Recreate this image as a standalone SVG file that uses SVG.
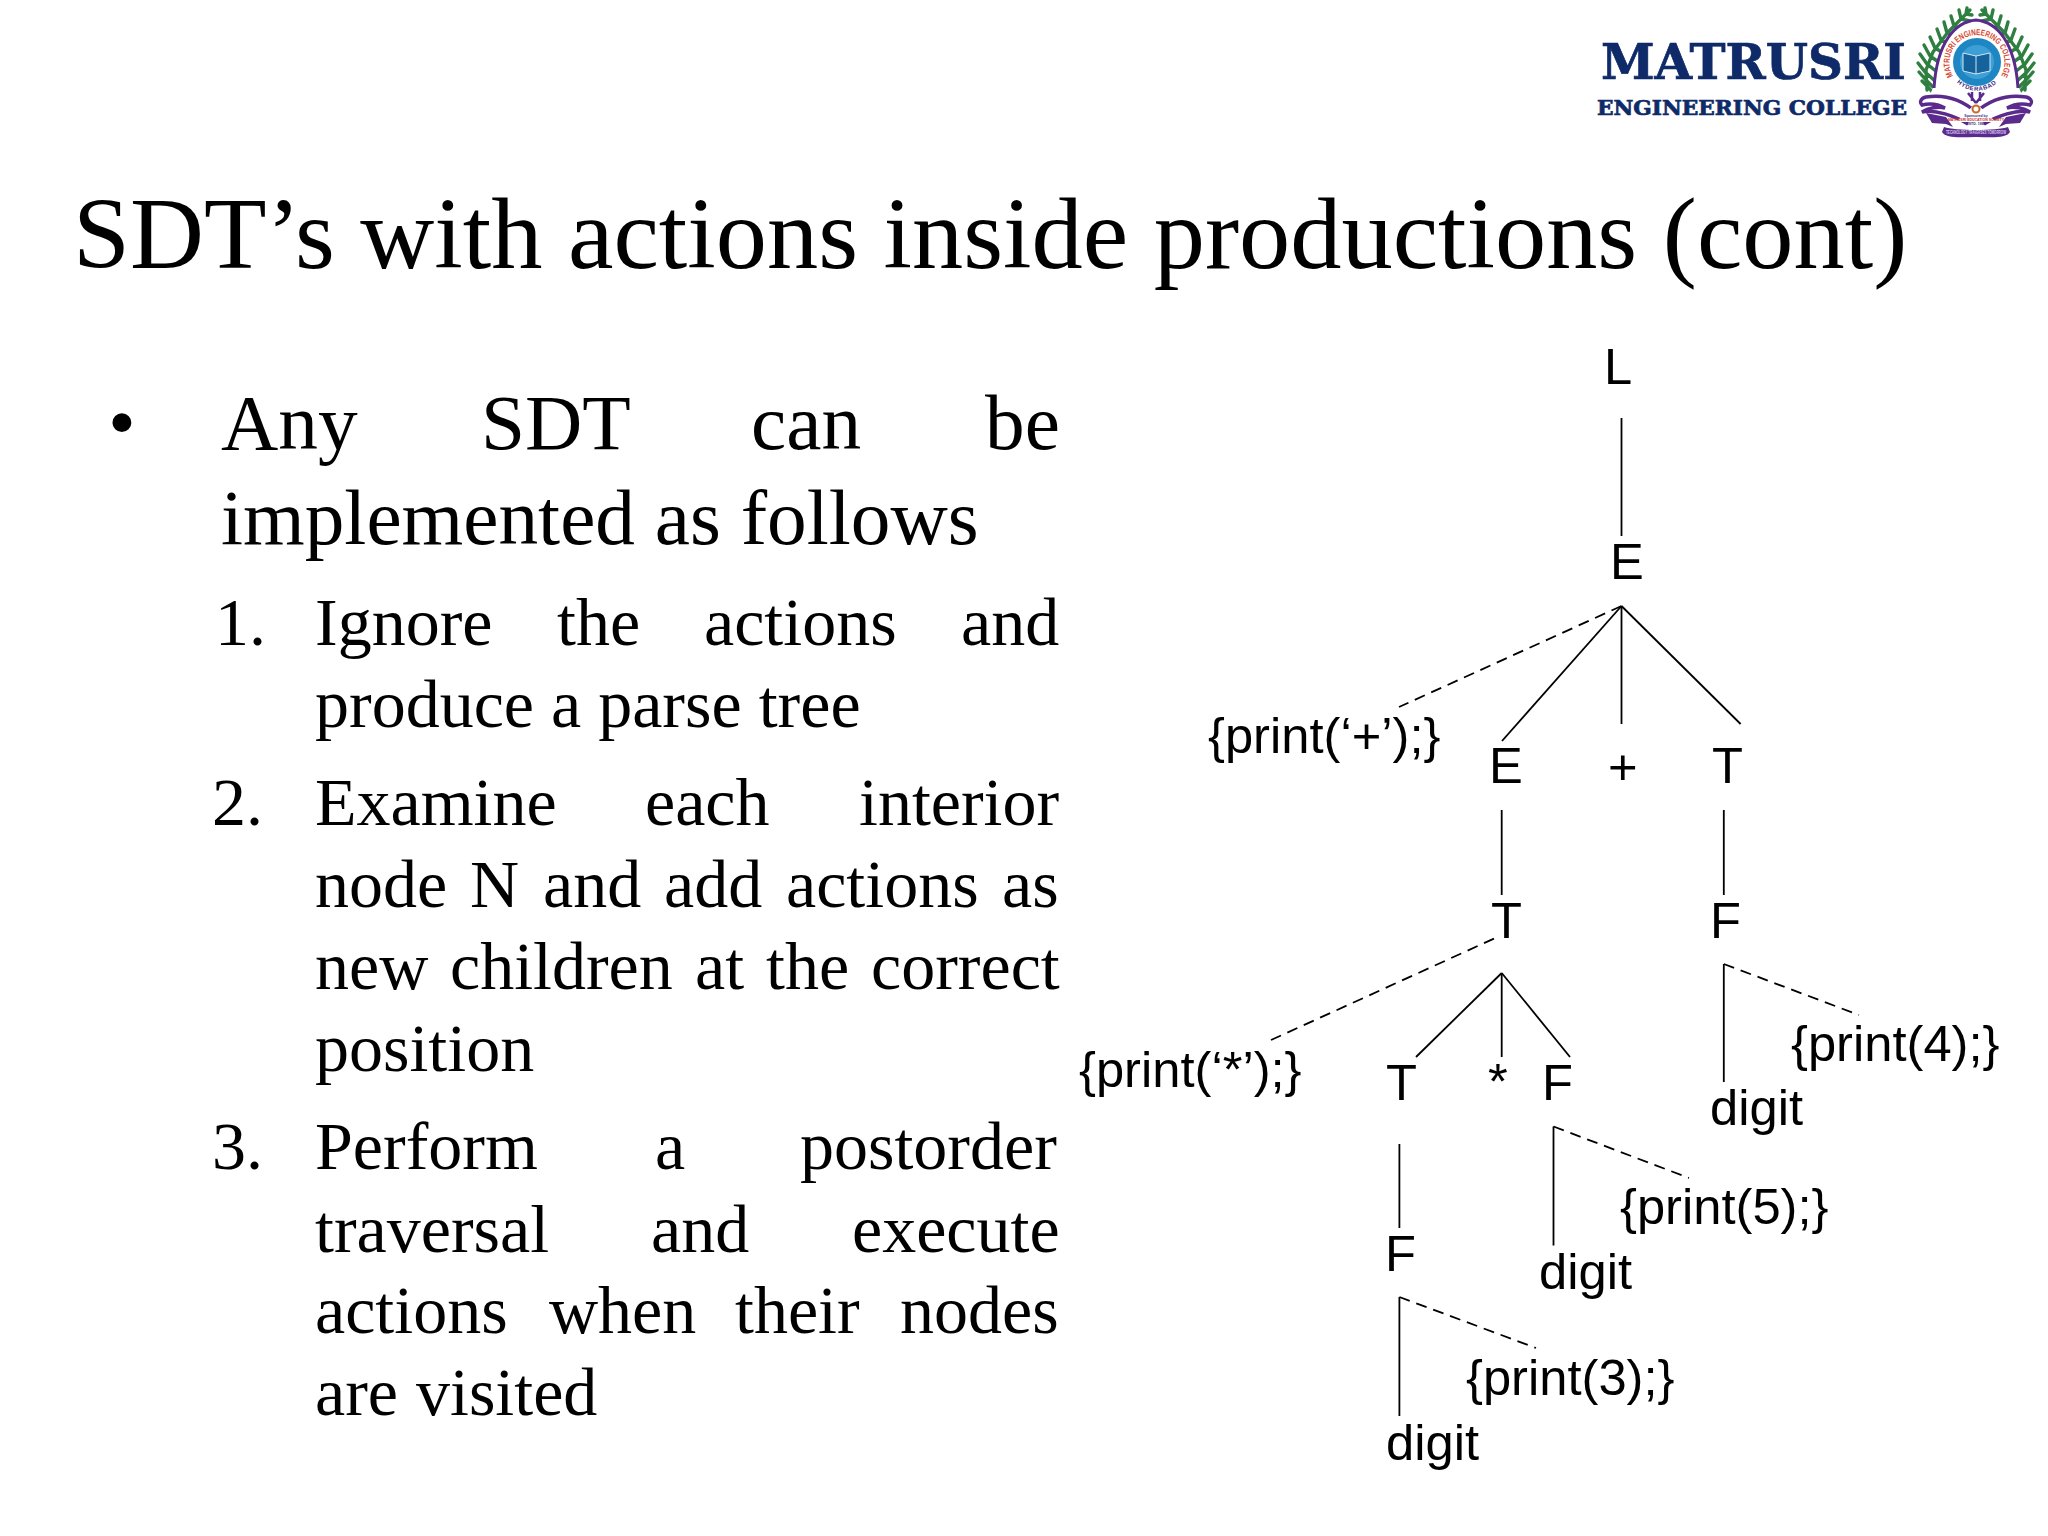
<svg xmlns="http://www.w3.org/2000/svg" width="2048" height="1536" viewBox="0 0 2048 1536">
<style>
.t{font-family:"Liberation Serif","Times New Roman",serif;fill:#000}
.h{font-size:102.4px}
.b{font-size:79.3px}
.s{font-size:68px}
.n{font-family:"Liberation Sans",Arial,sans-serif;font-size:50.7px;fill:#000}
.c line,.c path{stroke:#000;stroke-width:1.8;fill:none}
.c .d{stroke-dasharray:11 7}
.lg{font-family:"DejaVu Serif","Liberation Serif",serif;font-weight:700;fill:#0f2a68;stroke:#0f2a68;stroke-width:.7}
.leaf{stroke:#2f8040;stroke-width:3.4;fill:none;stroke-linecap:round}
.pu{stroke:#5a2a8c;fill:none}
.tiny{font-family:"Liberation Sans",Arial,sans-serif;font-weight:700}
</style>
<defs>
<path id="wreath" class="leaf" d="M1970 8L1948 30L1933 50L1926 68L1927 88M1966 12l1-6M1966 12l6 1M1961 17l-2-9M1961 17l9 2M1954 24l-3-10M1954 24l10 3M1947 31l-3-11M1947 31l10 4M1941 38l-4-11M1941 38l10 5M1935 46l-5-11M1935 46l10 6M1930 54l-6-11M1930 54l10 7M1927 62l-7-10M1927 62l10 8M1925 70l-7-9M1925 70l10 9M1926 78l-7-8M1926 78l9 9M1928 85l-6-6M1928 85l7 8"/>
<path id="ribbon" d="M1976 112C1962 100 1945 94 1926 97C1921 98 1919 102 1922 105C1930 103 1938 104 1945 108C1938 106 1928 108 1922 112C1935 109 1955 116 1968 124" class="pu" stroke-width="3.4"/>
</defs>
<rect width="2048" height="1536" fill="#fff"/>

<g id="logo">
<text class="lg" x="1601" y="79" font-size="48" textLength="305" lengthAdjust="spacingAndGlyphs">MATRUSRI</text>
<text class="lg" x="1597" y="115" font-size="21" textLength="310" lengthAdjust="spacingAndGlyphs">ENGINEERING COLLEGE</text>
<g id="emblem">
<use href="#wreath" transform="translate(0 2)"/>
<use href="#wreath" transform="translate(3952 2) scale(-1 1)"/>
<path d="M1976 20C1955 22 1938 40 1934 85L1928 100L2024 100L2018 85C2014 40 1997 22 1976 20Z" fill="#fff"/>
<path class="pu" stroke-width="3" d="M1934 88C1937 42 1955 22 1976 20C1997 22 2015 42 2018 88"/>
<circle cx="1977" cy="62" r="24" fill="#1f86c4"/>
<circle cx="1977" cy="62" r="17" fill="#3d9fd6"/>
<path d="M1963 53L1976 56L1990 53V71L1976 74L1963 71Z" fill="#14639c" stroke="#cfe6f4" stroke-width="1"/>
<path d="M1976 56V74" stroke="#cfe6f4" stroke-width="1"/>
<path id="ringT" d="M1953 76A27.5 27.5 0 1 1 2001 76" fill="none"/>
<path id="ringB" d="M1953 78A29 29 0 0 0 2001 78" fill="none"/>
<text class="tiny" font-size="8.5" fill="#d9482f"><textPath href="#ringT" textLength="114" lengthAdjust="spacingAndGlyphs">MATRUSRI ENGINEERING COLLEGE</textPath></text>
<text class="tiny" font-size="6" fill="#3a2a80" letter-spacing=".6"><textPath href="#ringB" startOffset="6">HYDERABAD</textPath></text>
<use href="#ribbon"/>
<use href="#ribbon" transform="translate(3952 0) scale(-1 1)"/>
<path d="M1968 93L1976 103L1984 93M1972 92V101M1980 92V101" class="pu" stroke-width="2.5"/>
<path d="M1976 103L1956 122H1996Z" fill="#fff"/>
<circle cx="1976" cy="109" r="3.5" fill="none" stroke="#c86a2a" stroke-width="2"/>
<path d="M1926 113L1946 117L1953 127L1946 124L1932 123Z" fill="#5a2a8c"/>
<path d="M2026 113L2006 117L1999 127L2006 124L2020 123Z" fill="#5a2a8c"/>
<text class="tiny" x="1976" y="117" font-size="3.5" text-anchor="middle" fill="#3a2a80">Sponsored by</text>
<text class="tiny" x="1976" y="121" font-size="3.5" text-anchor="middle" fill="#c8322a">MATRUSRI EDUCATION SOCIETY</text>
<text class="tiny" x="1976" y="125" font-size="3.5" text-anchor="middle" fill="#3a2a80">ESTD. 1980</text>
<path d="M1944 127C1955 131 1997 131 2008 127L2010 132C2006 139 1990 137 1976 137C1962 137 1946 139 1942 132Z" fill="#5a2a8c"/>
<text class="tiny" x="1946" y="134" font-size="5" fill="#d8c8ec" textLength="60" lengthAdjust="spacingAndGlyphs">TECHNOLOGY TRAVERSES TOMORROW</text>
</g>
</g>

<g id="title"><text class="t h" x="73" y="268">SDT’s with actions inside productions (cont)</text></g>

<g id="body" class="t">
<text class="t b" x="108" y="449">•</text>
<text class="t b" y="449"><tspan x="221">Any</tspan><tspan x="481">SDT</tspan><tspan x="751">can</tspan><tspan x="985">be</tspan></text>
<text class="t b" x="221" y="544">implemented as follows</text>
<text class="t s" y="645"><tspan x="215">1.</tspan><tspan x="315">Ignore</tspan><tspan x="557">the</tspan><tspan x="704">actions</tspan><tspan x="961">and</tspan></text>
<text class="t s" x="315" y="727">produce a parse tree</text>
<text class="t s" y="825"><tspan x="212">2.</tspan><tspan x="315">Examine</tspan><tspan x="645">each</tspan><tspan x="859">interior</tspan></text>
<text class="t s" y="907"><tspan x="315">node</tspan><tspan x="470">N</tspan><tspan x="543">and</tspan><tspan x="664">add</tspan><tspan x="786">actions</tspan><tspan x="1002">as</tspan></text>
<text class="t s" y="989"><tspan x="315">new</tspan><tspan x="450">children</tspan><tspan x="695">at</tspan><tspan x="766">the</tspan><tspan x="871">correct</tspan></text>
<text class="t s" x="315" y="1071">position</text>
<text class="t s" y="1169"><tspan x="212">3.</tspan><tspan x="315">Perform</tspan><tspan x="655">a</tspan><tspan x="800">postorder</tspan></text>
<text class="t s" y="1252"><tspan x="315">traversal</tspan><tspan x="651">and</tspan><tspan x="852">execute</tspan></text>
<text class="t s" y="1333"><tspan x="315">actions</tspan><tspan x="549">when</tspan><tspan x="735">their</tspan><tspan x="900">nodes</tspan></text>
<text class="t s" y="1415"><tspan x="315">are</tspan><tspan x="416">visited</tspan></text>
</g>

<g id="connectors" class="c">
<line x1="1621.5" y1="418" x2="1621.5" y2="536"/>
<line x1="1621.5" y1="606" x2="1502" y2="741"/>
<line x1="1621.5" y1="606" x2="1621.5" y2="724"/>
<line x1="1621.5" y1="606" x2="1740.6" y2="724"/>
<line class="d" x1="1621.5" y1="606" x2="1399" y2="707"/>
<line x1="1501.7" y1="810" x2="1501.7" y2="895"/>
<line x1="1723.8" y1="810" x2="1723.8" y2="895"/>
<line class="d" x1="1494" y1="938.6" x2="1271" y2="1040"/>
<line x1="1501.7" y1="973" x2="1416" y2="1057"/>
<line x1="1501.7" y1="973" x2="1501.7" y2="1057"/>
<line x1="1501.7" y1="973" x2="1570" y2="1057"/>
<line x1="1723.8" y1="964" x2="1723.8" y2="1082"/>
<line class="d" x1="1723.8" y1="964" x2="1859" y2="1015"/>
<line x1="1399.4" y1="1144" x2="1399.4" y2="1228"/>
<line x1="1553.5" y1="1126.5" x2="1553.5" y2="1245.5"/>
<line class="d" x1="1553.5" y1="1126.5" x2="1689" y2="1178"/>
<line x1="1399.4" y1="1297" x2="1399.4" y2="1416"/>
<line class="d" x1="1399.4" y1="1297" x2="1536" y2="1348"/>
</g>

<g id="n-L"><text class="n" x="1604" y="384">L</text></g>
<g id="n-E1"><text class="n" x="1610" y="579">E</text></g>
<g id="n-act-plus"><text class="n" x="1208" y="753">{print(‘+’);}</text></g>
<g id="n-E2"><text class="n" x="1489" y="783">E</text></g>
<g id="n-plus"><text class="n" x="1608" y="784">+</text></g>
<g id="n-T1"><text class="n" x="1712" y="783">T</text></g>
<g id="n-T2"><text class="n" x="1491" y="938">T</text></g>
<g id="n-F1"><text class="n" x="1710" y="938">F</text></g>
<g id="n-act-star"><text class="n" x="1079" y="1087">{print(‘*’);}</text></g>
<g id="n-T3"><text class="n" x="1386" y="1100">T</text></g>
<g id="n-star"><text class="n" x="1488" y="1099">*</text></g>
<g id="n-F2"><text class="n" x="1542" y="1100">F</text></g>
<g id="n-act-4"><text class="n" x="1791" y="1061">{print(4);}</text></g>
<g id="n-digit1"><text class="n" x="1710" y="1125">digit</text></g>
<g id="n-act-5"><text class="n" x="1620" y="1224">{print(5);}</text></g>
<g id="n-digit2"><text class="n" x="1539" y="1289">digit</text></g>
<g id="n-F3"><text class="n" x="1385" y="1271">F</text></g>
<g id="n-act-3"><text class="n" x="1466" y="1395">{print(3);}</text></g>
<g id="n-digit3"><text class="n" x="1386" y="1460">digit</text></g>
</svg>
